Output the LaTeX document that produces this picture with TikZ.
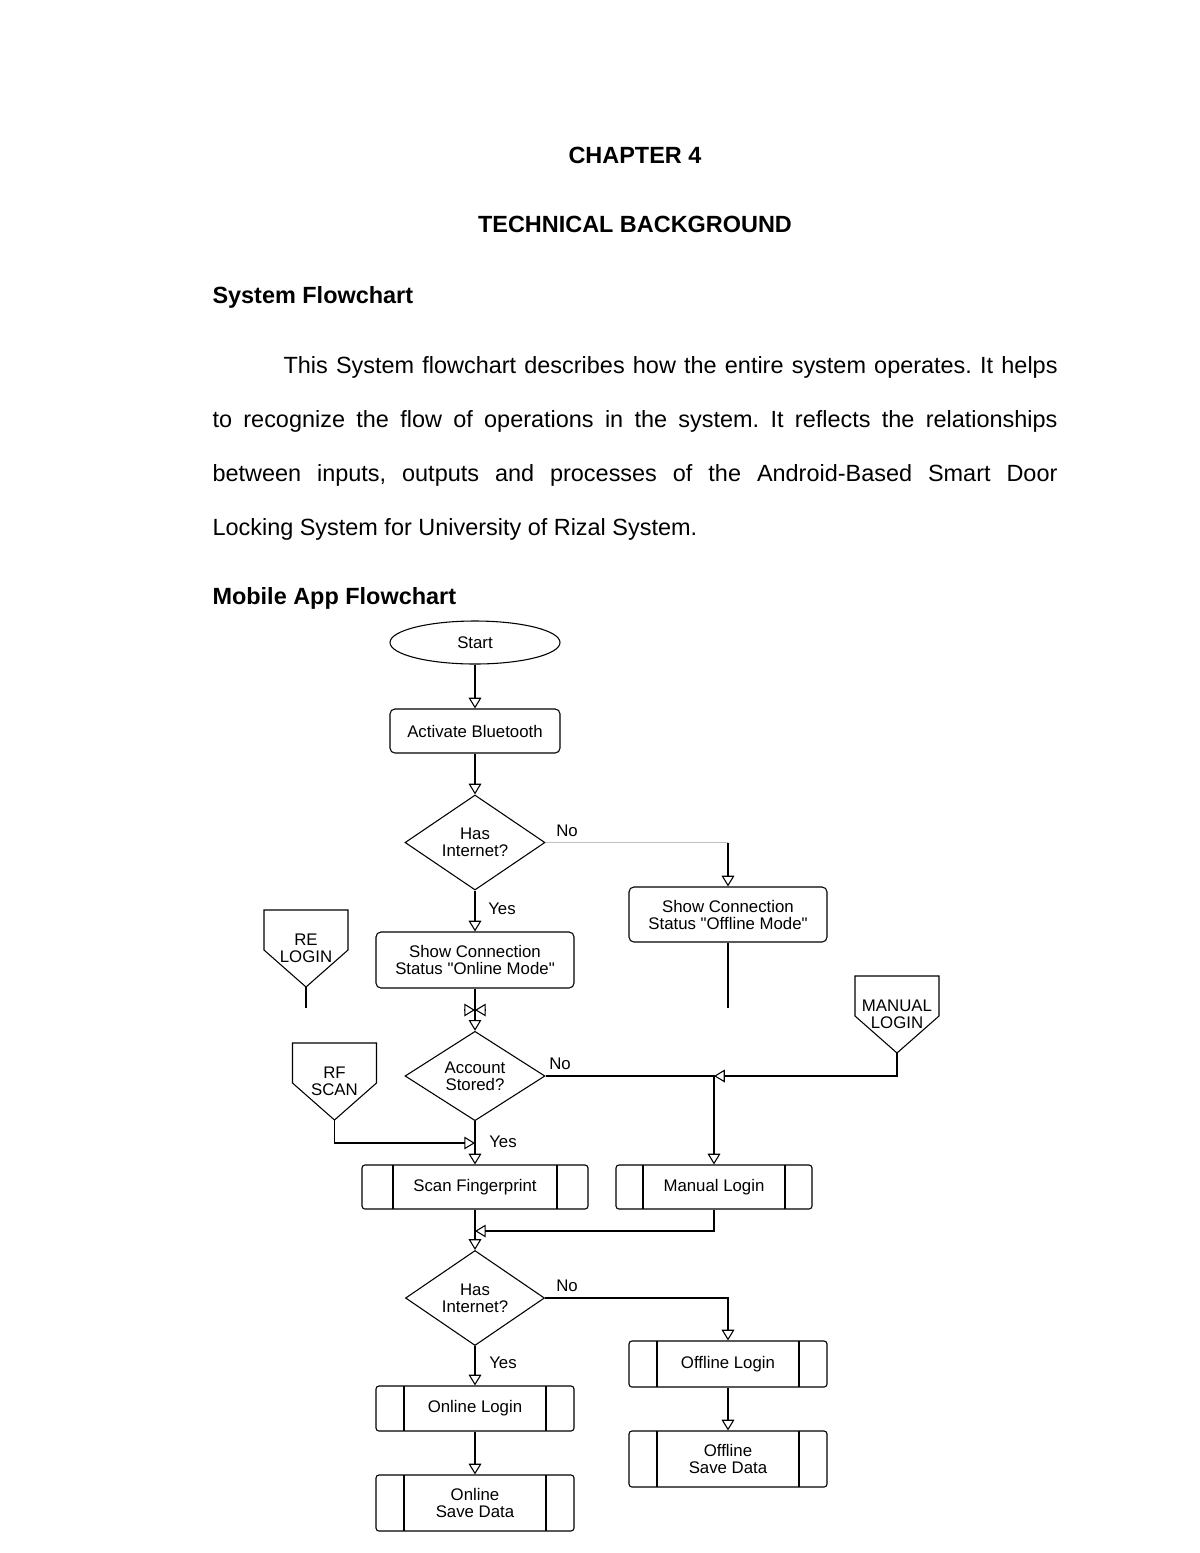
\documentclass[tikz,border=0pt]{standalone}
\usepackage{fontspec}
\setmainfont{Liberation Sans}
\newfontfamily\fcfont{Liberation Sans}
\usetikzlibrary{arrows.meta,shapes.geometric}
\newdimen\pxu \pxu=0.511875pt
\newcommand\offpg[4]{%
  \draw (#2-42,#3) -- (#2+42,#3) -- (#2+42,#3+40) -- (#2,#3+77) -- (#2-42,#3+40) -- cycle;
  \node[fc] (#1) at (#2,#3+38) {#4};
  \coordinate (#1tip) at (#2,#3+77);}
\frenchspacing
\begin{document}
\frenchspacing
\begin{tikzpicture}[x=0.511875pt,y=-0.511875pt,line width=0.55pt,
  fc/.style={font=\fcfont\fontsize{8.6pt}{8.7pt}\selectfont, align=center, inner sep=0pt},
  rbox/.style={fc, draw, rounded corners=2.5pt},
  dec/.style={fc, draw, diamond},
  pp/.style={fc, draw, rounded corners=1.5pt,
    path picture={\draw ([xshift=#1]path picture bounding box.north west) -- ([xshift=#1]path picture bounding box.south west);
                  \draw ([xshift=-#1]path picture bounding box.north east) -- ([xshift=-#1]path picture bounding box.south east);}},
  arr/.style={-{Triangle[open,width=6.5pt,length=5.5pt]}},
  body/.style={font=\fontsize{12pt}{14pt}\selectfont, inner sep=0pt, anchor=base west},
  head/.style={font=\fontsize{12pt}{14pt}\selectfont\bfseries, inner sep=0pt}]
\fill[white] (0,0) rectangle (1200,1553);
\useasboundingbox (0,0) rectangle (1200,1553);

% ---- page text ----
\node[head, anchor=base] (chap) at (635,163.3) {CHAPTER 4};
\node[head, anchor=base] (tech) at (635,232.7) {TECHNICAL BACKGROUND};
\node[head, anchor=base west] (sysf) at (212,303.3) {System Flowchart};
\node[body] (p1) at (283,373) {\hbox to 396.2pt{This System flowchart describes how the entire system operates. It helps}};
\node[body] (p2) at (212,427) {\hbox to 432.5pt{to recognize the flow of operations in the system. It reflects the relationships}};
\node[body] (p3) at (212,481) {\hbox to 432.5pt{between inputs, outputs and processes of the Android-Based Smart Door}};
\node[body] (p4) at (212,535) {Locking System for University of Rizal System.};
\node[head, anchor=base west] (mobf) at (212,604) {Mobile App Flowchart};

% ---- flowchart nodes ----
\node[fc, draw, ellipse, minimum width=170\pxu, minimum height=43\pxu] (start) at (475,642.5) {Start};
\node[rbox, minimum width=170\pxu, minimum height=44\pxu] (bt) at (475,731) {Activate Bluetooth};
\node[dec, minimum width=140\pxu, minimum height=89\pxu] (d1) at (475,842.5) {Has\\Internet?};
\node[rbox, minimum width=198\pxu, minimum height=55\pxu] (off) at (728,914.5) {Show Connection\\Status "Offline Mode"};
\node[rbox, minimum width=198\pxu, minimum height=56\pxu] (on) at (475,960) {Show Connection\\Status "Online Mode"};
\node[dec, minimum width=140\pxu, minimum height=88\pxu] (d2) at (475,1076) {Account\\Stored?};
\node[pp=31\pxu, minimum width=226\pxu, minimum height=44\pxu] (scan) at (475,1187) {Scan Fingerprint};
\node[pp=27\pxu, minimum width=196\pxu, minimum height=44\pxu] (manual) at (714,1187) {Manual Login};
\node[dec, minimum width=139\pxu, minimum height=86\pxu] (d3) at (475,1298) {Has\\Internet?};
\node[pp=28\pxu, minimum width=198\pxu, minimum height=45\pxu] (onlogin) at (475,1408.5) {Online Login};
\node[pp=28\pxu, minimum width=198\pxu, minimum height=56\pxu] (onsave) at (475,1503) {Online\\Save Data};
\node[pp=28\pxu, minimum width=198\pxu, minimum height=46\pxu] (offlogin) at (728,1364) {Offline Login};
\node[pp=28\pxu, minimum width=198\pxu, minimum height=56\pxu] (offsave) at (728,1459) {Offline\\Save Data};

\offpg{relogin}{306}{910}{RE\\LOGIN}
\offpg{manlogin}{897}{976}{MANUAL\\LOGIN}
\offpg{rfscan}{334.5}{1043}{RF\\SCAN}

% ---- connectors ----
\coordinate (offend) at (728,1008);
\coordinate (reend) at (306,1008);
\coordinate (jn) at (475,1010);
\coordinate (rfj) at (475,1143);
\coordinate (mj) at (475,1231);

\draw[arr] (start) -- (bt);
\draw[arr] (bt) -- (d1);
\draw[black!25] (d1.east) -- (d1.east -| off.north);
\draw[arr] (d1.east -| off.north) -- (off.north);
\node[fc] (no1) at (567,831) {No};
\draw (off) -- (offend);
\draw[arr] (d1) -- (on);
\node[fc] (yes1) at (502,909) {Yes};
\draw (relogintip) -- (reend);
\draw[arr] (on) -- (d2);
\draw[arr] ([xshift=-11\pxu]jn) -- (jn);
\draw[arr] ([xshift=11\pxu]jn) -- (jn);
\draw[arr] (d2.east) -| (manual.north);
\node[fc] (no2) at (560,1064) {No};
\draw[arr] (manlogintip) |- (d2.east -| manual.north);
\draw[arr] (d2) -- (scan);
\node[fc] (yes2) at (503,1142) {Yes};
\draw[arr] (rfscantip) |- (rfj);
\draw[arr] (scan) -- (d3);
\draw[arr] (manual.south) |- (mj);
\draw[arr] (d3.east) -| (offlogin.north);
\node[fc] (no3) at (567,1286) {No};
\draw[arr] (d3) -- (onlogin);
\node[fc] (yes3) at (503,1363) {Yes};
\draw[arr] (onlogin) -- (onsave);
\draw[arr] (offlogin) -- (offsave);
\end{tikzpicture}
\end{document}
